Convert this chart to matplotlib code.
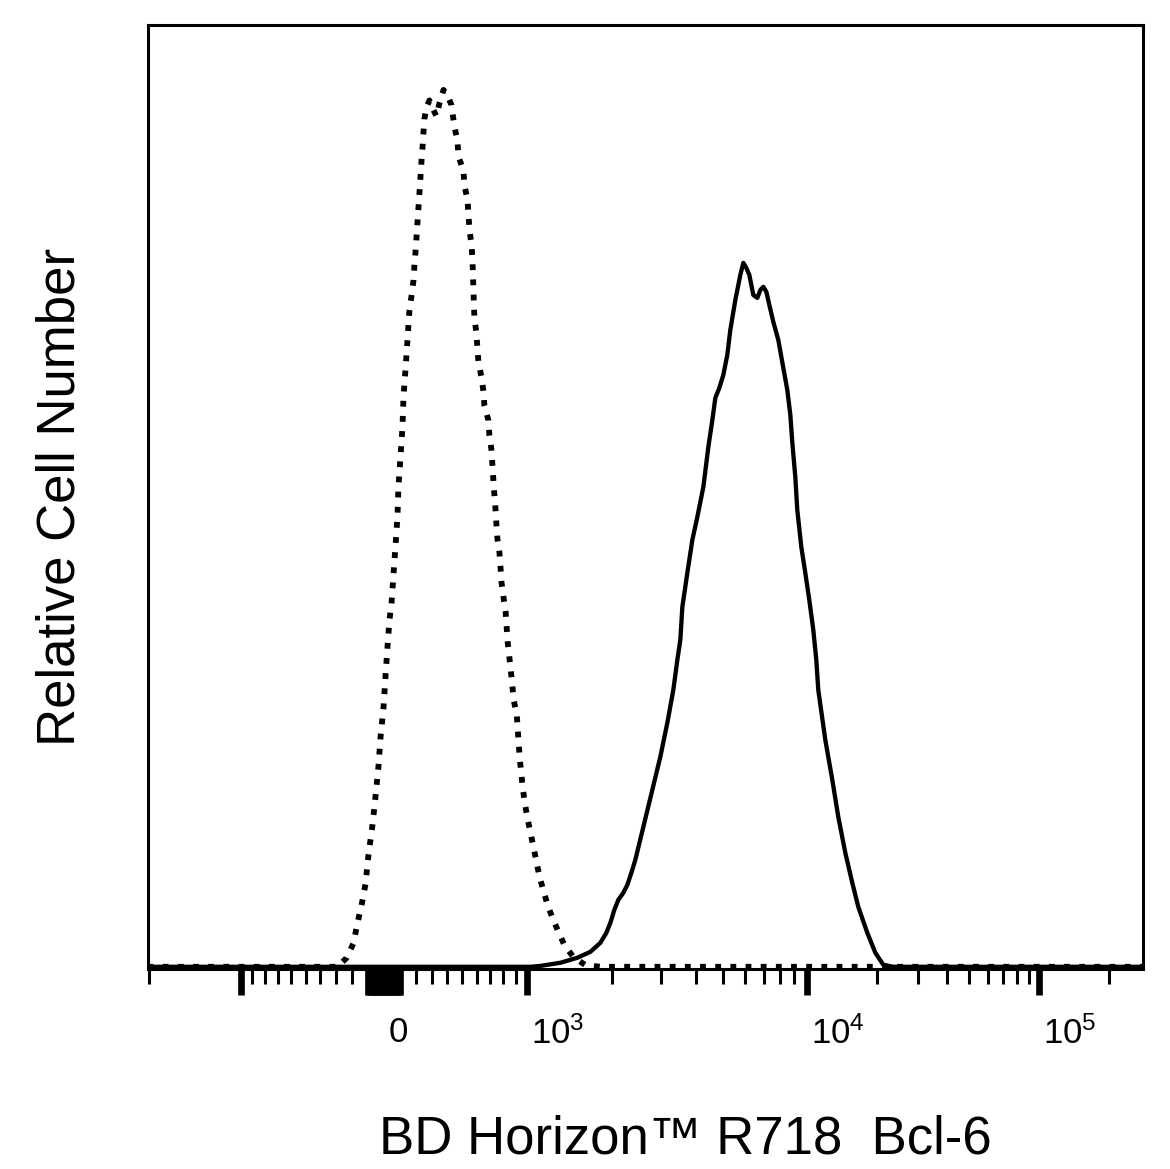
import numpy as np
import matplotlib
matplotlib.use("Agg")
import matplotlib.pyplot as plt
import matplotlib.transforms as mtransforms

plt.rcParams["font.family"] = ["Liberation Sans", "DejaVu Sans"]
plt.rcParams["mathtext.fontset"] = "custom"
plt.rcParams["mathtext.rm"] = "Liberation Sans"

# isotype / unstained control (dotted), intensity vs relative count
iso_x = [-2020, -290, -232, -188, -170, -151, -132, -114, -95, -71, -52, -34, -21, -3,
         9, 21, 34, 46, 58, 71, 83, 89, 102, 114, 120, 126, 133, 139, 145, 157, 170,
         182, 188, 195, 207, 220, 232, 239, 245, 251, 264, 283, 309, 328, 348, 374,
         400, 426, 447, 467, 474, 508, 515, 536, 543, 550, 564, 571, 574, 578, 581,
         585, 599, 606, 614, 635, 650, 657, 687, 694, 709, 717, 724, 732, 740, 747,
         755, 771, 779, 787, 803, 819, 835, 860, 885, 910, 918, 935, 960, 977, 1000,
         1025, 1051, 1077, 1104, 1141, 1179, 1228, 1290, 1355, 1460, 1611, 1823, 280000]
iso_y = [0, 0, 1.0, 2.7, 4.4, 6.0, 7.6, 9.4, 12.8, 16.1, 19.4, 22.8, 26.2, 29.5,
         33.0, 36.3, 39.6, 41.3, 44.6, 48.0, 51.3, 54.7, 58.2, 61.5, 64.8, 66.5, 68.2,
         69.8, 71.5, 74.8, 76.5, 78.2, 79.9, 81.5, 84.8, 88.3, 91.7, 93.4, 95.1, 96.7,
         98.0, 98.8, 97.7, 97.0, 98.5, 100.0, 99.4, 98.3, 95.8, 94.2, 92.4, 90.8, 89.1,
         87.5, 85.8, 84.0, 82.4, 80.7, 79.0, 77.3, 75.7, 74.0, 72.3, 70.6, 68.9, 67.3,
         65.6, 64.0, 62.3, 60.6, 59.0, 57.2, 55.5, 53.8, 52.2, 50.5, 48.8, 47.2, 45.5,
         43.8, 42.1, 40.5, 37.1, 33.9, 30.4, 28.7, 27.0, 23.7, 20.4, 18.7, 17.0, 15.3,
         13.7, 12.0, 10.3, 8.7, 7.1, 5.6, 4.0, 2.5, 1.1, 0.2, 0, 0]

# Bcl-6 stained (solid)
bcl6_x = [-2020, 1025, 1113, 1312, 1509, 1679, 1823, 1915, 1979, 2045, 2113, 2202, 2276,
          2352, 2430, 2596, 2795, 2985, 3162, 3322, 3434, 3519, 3578, 3728, 3885, 4048,
          4253, 4431, 4580, 4694, 4851, 5012, 5179, 5309, 5533, 5765, 5908, 6055, 6208,
          6414, 6630, 6797, 6967, 7141, 7318, 7561, 7878, 8210, 8484, 8698, 8842, 9061,
          9210, 9519, 9837, 10200, 10614, 10935, 11153, 11957, 12820, 13603, 14585,
          15631, 16590, 18143, 19646, 21265, 23487, 25176, 280000]
bcl6_y = [0, 0, 0.1, 0.46, 1.03, 1.71, 2.74, 3.88, 5.02, 6.50, 7.64, 8.44, 9.35,
          10.72, 12.20, 15.96, 20.18, 23.95, 27.82, 31.58, 35.01, 37.29, 41.05, 44.93,
          48.69, 51.31, 54.73, 59.29, 62.37, 64.88, 66.02, 67.50, 69.78, 72.63, 76.05,
          78.90, 80.27, 79.70, 78.90, 76.62, 76.28, 77.19, 77.54, 76.97, 75.48, 73.55,
          71.49, 68.30, 65.79, 62.94, 59.75, 55.87, 52.11, 47.89, 44.93, 41.85, 38.43,
          35.01, 31.58, 25.88, 21.32, 17.10, 13.00, 9.58, 6.84, 3.88, 1.60, 0.23, 0, 0, 0]

major_ticks = [-1000] + list(range(-100, 101, 10)) + [1000, 10000, 100000]
labelled = {0: r"$\mathregular{0}$", 1000: r"$\mathregular{10^{3}}$",
            10000: r"$\mathregular{10^{4}}$", 100000: r"$\mathregular{10^{5}}$"}
minor_ticks = ([-2000] + list(range(-900, -199, 100)) + list(range(200, 901, 100))
               + list(range(2000, 9001, 1000)) + list(range(20000, 90001, 10000))
               + [200000])


# biexponential-like display: linear (asinh) around zero, log above 10^3
def fwd(v):
    v = np.asarray(v, dtype=float)
    lin = np.arcsinh(v / 1000.0) / np.arcsinh(1.0)
    lg = np.log10(np.maximum(v, 1000.0))
    hi = np.where(lg <= 4, 1 + (lg - 3) * 1.951, 2.951 + (lg - 4) * 1.617)
    return np.where(v <= 1000, lin, hi)


def inv(d):
    d = np.asarray(d, dtype=float)
    low = 1000.0 * np.sinh(np.clip(d, -30, 1) * np.arcsinh(1.0))
    lg = np.where(d <= 2.951, 3 + (d - 1) / 1.951, 4 + (d - 2.951) / 1.617)
    hi = 10 ** np.clip(lg, 3, 12)
    return np.where(d <= 1, low, hi)


fig = plt.figure(figsize=(11.7, 11.69), dpi=100)
ax = fig.add_axes([0.1261, 0.1711, 0.9769 - 0.1261, 0.9786 - 0.1711])
ax.set_xscale("function", functions=(fwd, inv))

ax.plot(iso_x, iso_y, color="black", linewidth=4.2,
        linestyle=(0, (1, 1.6)), dash_capstyle="butt")
ax.plot(bcl6_x, bcl6_y, color="black", linewidth=3.1,
        solid_joinstyle="round", solid_capstyle="round")

ax.set_xlim(-2020, 280000)
ax.set_ylim(-0.25, 107.4)

ax.set_xticks(major_ticks)
ax.set_xticklabels([labelled.get(t, "") for t in major_ticks])
ax.set_xticks(minor_ticks, minor=True)
ax.set_yticks([])
ax.tick_params(axis="x", which="major", direction="out", length=19, width=4.8,
               pad=15, labelsize=25)
ax.tick_params(axis="x", which="minor", direction="out", length=11, width=2.2)

offset = mtransforms.ScaledTranslation(4 / 100, 0, fig.dpi_scale_trans)
for lab in ax.get_xticklabels():
    lab.set_horizontalalignment("left")
    lab.set_transform(lab.get_transform() + offset)

for sp in ax.spines.values():
    sp.set_linewidth(2.2)

fig.text(685 / 1170, 1 - 1153 / 1169, "BD Horizon\u2122 R718  Bcl-6",
         ha="center", va="baseline", fontsize=38)
fig.text(75 / 1170, 1 - 497 / 1169, "Relative Cell Number", rotation=90,
         rotation_mode="anchor", ha="center", va="baseline", fontsize=38)

fig.savefig("out.png", dpi=100)
